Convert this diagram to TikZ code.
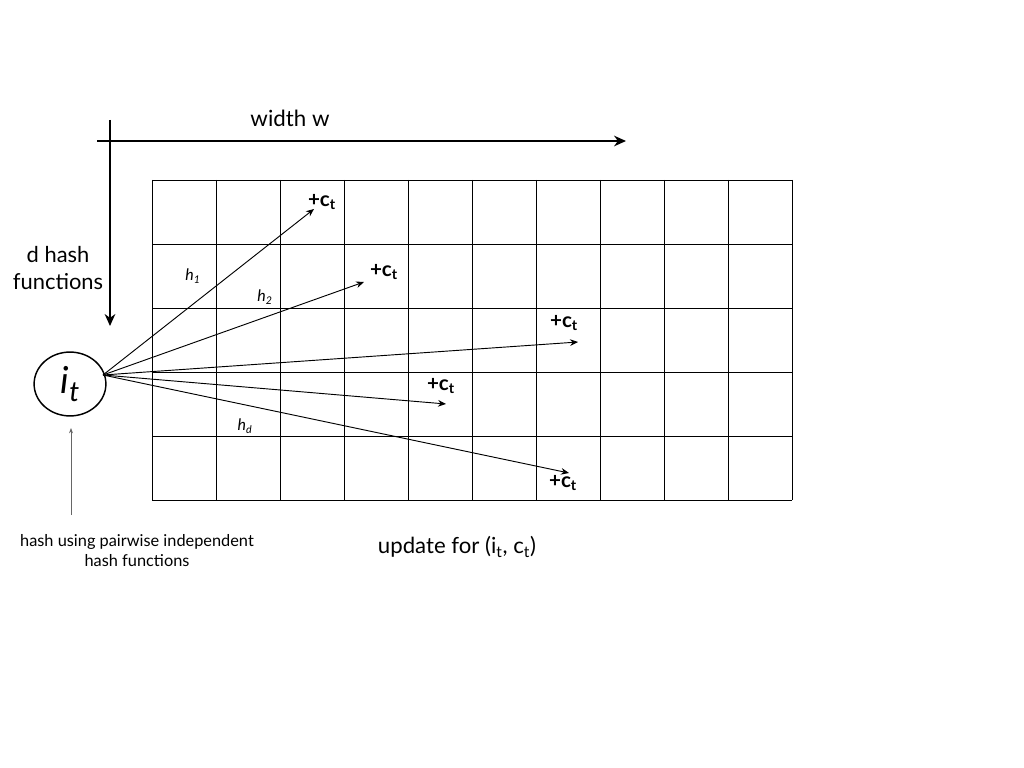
\documentclass[tikz,border=0pt]{standalone}
\usepackage{fontspec}
\setmainfont{Lato}
\usetikzlibrary{arrows.meta, shapes.geometric}
\begin{document}
\begin{tikzpicture}[x=0.2646cm, y=-0.2646cm]
    \useasboundingbox (0,0) rectangle (102.4,76.8);
    % Stili
    \tikzset{
        cella/.style={line width=0.6pt},
        asse/.style={line width=2.2pt, -{Stealth[length=9pt,width=8pt]}},
        freccia/.style={line width=0.7pt, -{Stealth[length=6pt,width=5pt]}},
        piu/.style={font=\fontsize{15.5}{17}\selectfont\bfseries, inner sep=0pt},
        etich/.style={font=\fontsize{12}{14}\selectfont\itshape}
    }

    % Griglia w x d
    \foreach \i in {0,...,10} {
        \draw[cella] (15.2+6.4*\i,18.0) -- (15.2+6.4*\i,50.0);
    }
    \foreach \j in {0,...,5} {
        \draw[cella] (15.2,18.0+6.4*\j) -- (79.2,18.0+6.4*\j);
    }

    % Assi
    \coordinate (asse_w_a) at (9.7,14.1);
    \coordinate (asse_w_b) at (62.6,14.1);
    \coordinate (asse_d_a) at (11.0,12.0);
    \coordinate (asse_d_b) at (11.0,32.6);
    \draw[asse] (asse_w_a) -- (asse_w_b);
    \draw[asse] (asse_d_a) -- (asse_d_b);
    \node[font=\fontsize{16.8}{19}\selectfont] (lab_w) at (29.0,11.8) {width w};
    \node[font=\fontsize{16.5}{21}\selectfont, align=center] (lab_d) at (5.8,26.8) {d hash\\functions};

    % Elemento i_t
    \node[draw, ellipse, line width=1.1pt, minimum width=1.9cm, minimum height=1.69cm, inner sep=0pt,
          font=\fontsize{28}{30}\selectfont\itshape] (item) at (7.0,38.4) {i\raisebox{-0.45ex}{\fontsize{21}{22}\selectfont t}};
    \coordinate (src) at (10.3,37.5);

    % Destinazioni
    \coordinate (dst1) at (31.4,20.9);
    \coordinate (dst2) at (36.4,28.2);
    \coordinate (dst3) at (57.8,34.2);
    \coordinate (dst4) at (44.6,40.4);
    \coordinate (dst5) at (56.9,47.3);
    \foreach \k in {1,...,5} {
        \draw[freccia] (src) -- (dst\k);
    }
    \node[piu] (c1) at (32.2,20.2) {+c\textsubscript{t}};
    \node[piu] (c2) at (38.4,27.2) {+c\textsubscript{t}};
    \node[piu] (c3) at (56.4,32.3) {+c\textsubscript{t}};
    \node[piu] (c4) at (44.1,38.6) {+c\textsubscript{t}};
    \node[piu] (c5) at (56.3,48.3) {+c\textsubscript{t}};

    % Etichette funzioni hash
    \node[etich] (h1) at (19.3,27.6) {h\textsubscript{1}};
    \node[etich] (h2) at (26.5,29.7) {h\textsubscript{2}};
    \node[etich] (hd) at (24.5,42.6) {h\textsubscript{d}};

    % Nota in basso
    \coordinate (nota_a) at (7.1,51.5);
    \coordinate (nota_b) at (7.1,42.8);
    \draw[line width=0.6pt, black!60, -{Stealth[length=4pt,width=3pt]}] (nota_a) -- (nota_b);
    \node[font=\fontsize{12.3}{15}\selectfont, align=center] (nota) at (13.7,55.1) {hash using pairwise independent\\hash functions};
    \node[font=\fontsize{16.7}{19}\selectfont] (update) at (45.7,54.7) {update for (i\textsubscript{t}, c\textsubscript{t})};
\end{tikzpicture}
\end{document}
